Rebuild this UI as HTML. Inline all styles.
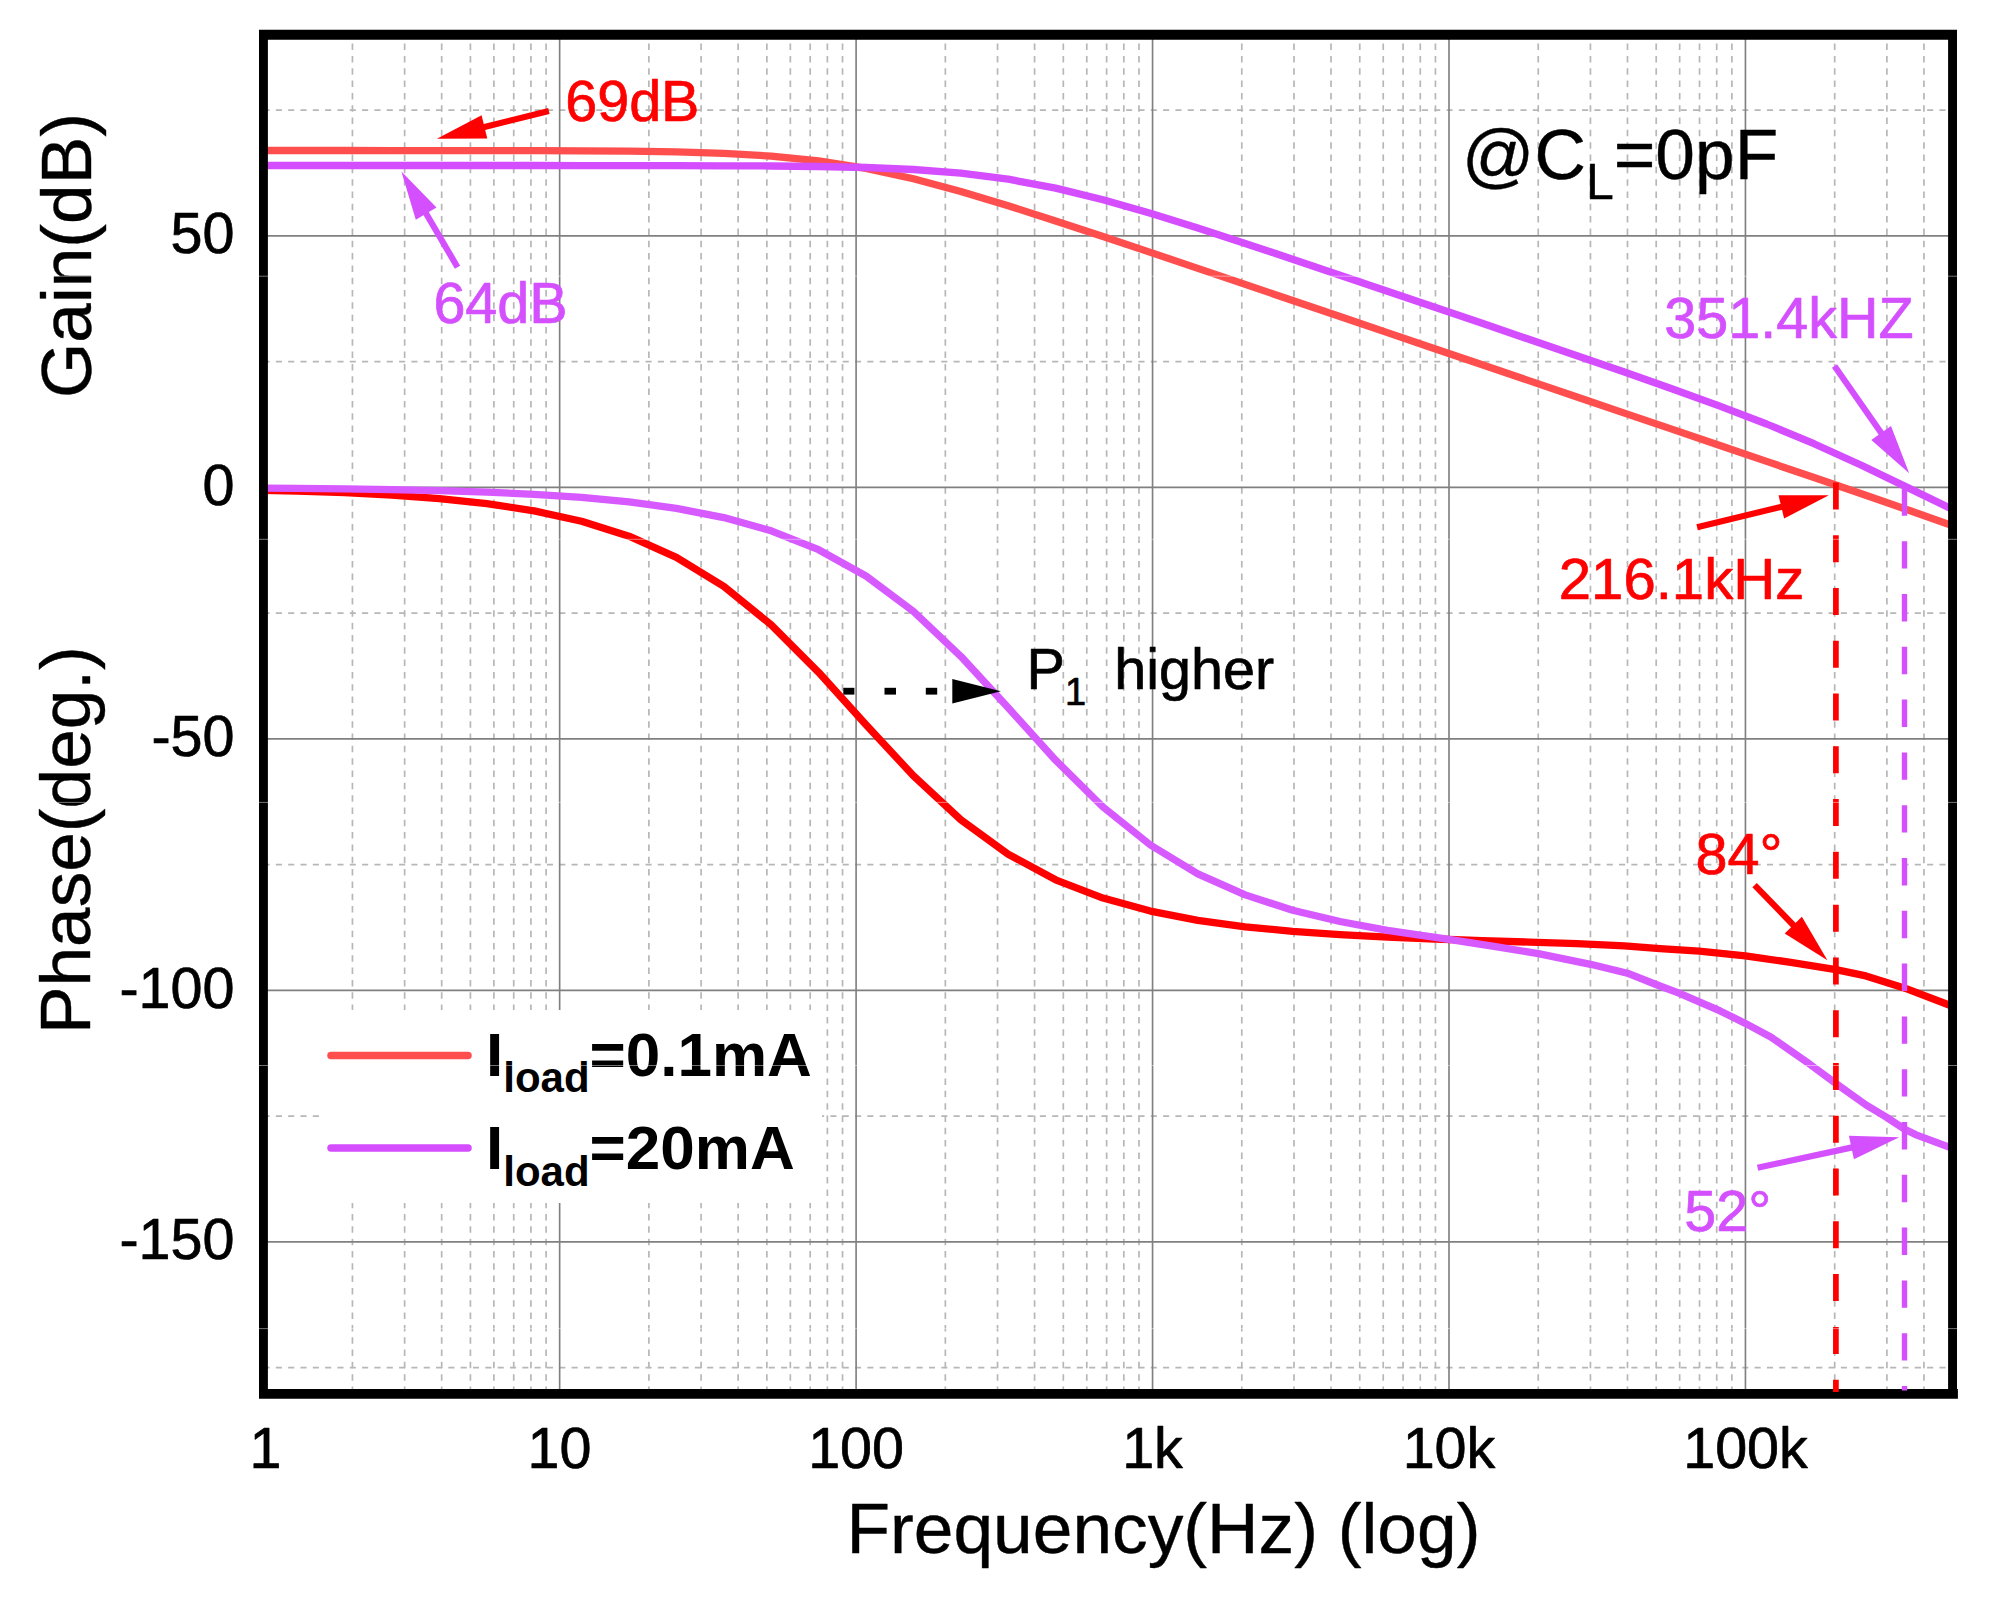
<!DOCTYPE html>
<html lang="en"><head><meta charset="utf-8"><title>Bode plot</title>
<style>html,body{margin:0;padding:0;background:#fff}svg{display:block}text{font-family:"Liberation Sans",Arial,sans-serif;stroke-width:.7px;stroke-linejoin:round}.k{stroke:#000}.r{stroke:#FF0000}.p{stroke:#D450FF}.b{stroke:none}.t{stroke-width:.4px}</style></head><body>
<svg width="1996" height="1608" viewBox="0 0 1996 1608">
<rect width="1996" height="1608" fill="#fff"/>
<defs><clipPath id="c"><rect x="263.5" y="34.8" width="1689.0" height="1359.0"/></clipPath></defs>
<g fill="none" stroke="#B7B7B7" stroke-width="1.65">
<path d="M352.44 1393.00V34.8" stroke-width="1.7" stroke-dasharray="6.5 5.82"/>
<path d="M404.64 1393.00V34.8" stroke-width="1.7" stroke-dasharray="6.5 5.82"/>
<path d="M441.68 1393.00V34.8" stroke-width="1.7" stroke-dasharray="6.5 5.82"/>
<path d="M470.41 1393.00V34.8" stroke-width="1.7" stroke-dasharray="6.5 5.82"/>
<path d="M493.88 1393.00V34.8" stroke-width="1.7" stroke-dasharray="6.5 5.82"/>
<path d="M513.73 1393.00V34.8" stroke-width="1.7" stroke-dasharray="6.5 5.82"/>
<path d="M530.92 1393.00V34.8" stroke-width="1.7" stroke-dasharray="6.5 5.82"/>
<path d="M546.09 1393.00V34.8" stroke-width="1.7" stroke-dasharray="6.5 5.82"/>
<path d="M648.89 1393.00V34.8" stroke-width="1.7" stroke-dasharray="6.5 5.82"/>
<path d="M701.09 1393.00V34.8" stroke-width="1.7" stroke-dasharray="6.5 5.82"/>
<path d="M738.13 1393.00V34.8" stroke-width="1.7" stroke-dasharray="6.5 5.82"/>
<path d="M766.86 1393.00V34.8" stroke-width="1.7" stroke-dasharray="6.5 5.82"/>
<path d="M790.33 1393.00V34.8" stroke-width="1.7" stroke-dasharray="6.5 5.82"/>
<path d="M810.18 1393.00V34.8" stroke-width="1.7" stroke-dasharray="6.5 5.82"/>
<path d="M827.37 1393.00V34.8" stroke-width="1.7" stroke-dasharray="6.5 5.82"/>
<path d="M842.54 1393.00V34.8" stroke-width="1.7" stroke-dasharray="6.5 5.82"/>
<path d="M945.34 1393.00V34.8" stroke-width="1.7" stroke-dasharray="6.5 5.82"/>
<path d="M997.54 1393.00V34.8" stroke-width="1.7" stroke-dasharray="6.5 5.82"/>
<path d="M1034.58 1393.00V34.8" stroke-width="1.7" stroke-dasharray="6.5 5.82"/>
<path d="M1063.31 1393.00V34.8" stroke-width="1.7" stroke-dasharray="6.5 5.82"/>
<path d="M1086.78 1393.00V34.8" stroke-width="1.7" stroke-dasharray="6.5 5.82"/>
<path d="M1106.63 1393.00V34.8" stroke-width="1.7" stroke-dasharray="6.5 5.82"/>
<path d="M1123.82 1393.00V34.8" stroke-width="1.7" stroke-dasharray="6.5 5.82"/>
<path d="M1138.99 1393.00V34.8" stroke-width="1.7" stroke-dasharray="6.5 5.82"/>
<path d="M1241.79 1393.00V34.8" stroke-width="1.7" stroke-dasharray="6.5 5.82"/>
<path d="M1293.99 1393.00V34.8" stroke-width="1.7" stroke-dasharray="6.5 5.82"/>
<path d="M1331.03 1393.00V34.8" stroke-width="1.7" stroke-dasharray="6.5 5.82"/>
<path d="M1359.76 1393.00V34.8" stroke-width="1.7" stroke-dasharray="6.5 5.82"/>
<path d="M1383.23 1393.00V34.8" stroke-width="1.7" stroke-dasharray="6.5 5.82"/>
<path d="M1403.08 1393.00V34.8" stroke-width="1.7" stroke-dasharray="6.5 5.82"/>
<path d="M1420.27 1393.00V34.8" stroke-width="1.7" stroke-dasharray="6.5 5.82"/>
<path d="M1435.44 1393.00V34.8" stroke-width="1.7" stroke-dasharray="6.5 5.82"/>
<path d="M1538.24 1393.00V34.8" stroke-width="1.7" stroke-dasharray="6.5 5.82"/>
<path d="M1590.44 1393.00V34.8" stroke-width="1.7" stroke-dasharray="6.5 5.82"/>
<path d="M1627.48 1393.00V34.8" stroke-width="1.7" stroke-dasharray="6.5 5.82"/>
<path d="M1656.21 1393.00V34.8" stroke-width="1.7" stroke-dasharray="6.5 5.82"/>
<path d="M1679.68 1393.00V34.8" stroke-width="1.7" stroke-dasharray="6.5 5.82"/>
<path d="M1699.53 1393.00V34.8" stroke-width="1.7" stroke-dasharray="6.5 5.82"/>
<path d="M1716.72 1393.00V34.8" stroke-width="1.7" stroke-dasharray="6.5 5.82"/>
<path d="M1731.89 1393.00V34.8" stroke-width="1.7" stroke-dasharray="6.5 5.82"/>
<path d="M1834.69 1393.00V34.8" stroke-width="1.7" stroke-dasharray="6.5 5.82"/>
<path d="M1886.89 1393.00V34.8" stroke-width="1.7" stroke-dasharray="6.5 5.82"/>
<path d="M1923.93 1393.00V34.8" stroke-width="1.7" stroke-dasharray="6.5 5.82"/>
<path d="M263.50 110.05H1952.5" stroke-dasharray="6.1 6.223"/>
<path d="M263.50 361.55H1952.5" stroke-dasharray="6.1 6.223"/>
<path d="M263.50 613.05H1952.5" stroke-dasharray="6.1 6.223"/>
<path d="M263.50 864.55H1952.5" stroke-dasharray="6.1 6.223"/>
<path d="M263.50 1116.05H1952.5" stroke-dasharray="6.1 6.223"/>
<path d="M263.50 1367.55H1952.5" stroke-dasharray="6.1 6.223"/>
</g>
<g fill="none" stroke="#808080" stroke-width="1.65">
<path d="M559.65 34.8V1393.8"/>
<path d="M856.10 34.8V1393.8"/>
<path d="M1152.55 34.8V1393.8"/>
<path d="M1449.00 34.8V1393.8"/>
<path d="M1745.45 34.8V1393.8"/>
<path d="M263.5 235.80H1952.5"/>
<path d="M263.5 487.30H1952.5"/>
<path d="M263.5 738.80H1952.5"/>
<path d="M263.5 990.30H1952.5"/>
<path d="M263.5 1241.80H1952.5"/>
</g>
<g clip-path="url(#c)">
<polyline points="249.8,150.5 297.2,150.5 344.6,150.5 392.0,150.6 439.4,150.6 486.8,150.6 534.2,150.7 581.6,150.9 629.0,151.2 676.4,151.9 723.8,153.4 771.2,156.1 818.6,160.9 866.0,168.4 913.4,178.8 960.8,191.5 1008.2,205.8 1055.6,220.9 1103.0,236.5 1150.4,252.4 1197.8,268.4 1245.2,284.4 1292.6,300.5 1340.0,316.5 1387.4,332.6 1434.8,348.7 1482.2,364.8 1529.6,380.9 1577.0,397.0 1624.4,413.1 1671.8,429.1 1719.2,445.3 1766.6,461.4 1814.0,477.5 1861.4,493.8 1908.8,510.2 1956.2,527.0 2003.6,544.4" fill="none" stroke="#FF4E4E" stroke-width="7.3" stroke-linejoin="round" stroke-linecap="butt"/>
<polyline points="249.8,165.5 297.2,165.5 344.6,165.5 392.0,165.5 439.4,165.5 486.8,165.5 534.2,165.5 581.6,165.6 629.0,165.6 676.4,165.6 723.8,165.8 771.2,166.0 818.6,166.5 866.0,167.5 913.4,169.5 960.8,173.1 1008.2,179.2 1055.6,188.1 1103.0,199.7 1150.4,213.3 1197.8,228.0 1245.2,243.5 1292.6,259.2 1340.0,275.2 1387.4,291.2 1434.8,307.2 1482.2,323.3 1529.6,339.5 1577.0,355.7 1624.4,372.0 1671.8,388.7 1719.2,405.9 1766.6,424.0 1814.0,443.7 1861.4,465.2 1908.8,488.1 1956.2,511.2 2003.6,533.1" fill="none" stroke="#D44EFF" stroke-width="7.3" stroke-linejoin="round" stroke-linecap="butt"/>
<polyline points="249.8,489.9 297.2,491.1 344.6,492.7 392.0,495.1 439.4,498.6 486.8,503.6 534.2,510.9 581.6,521.3 629.0,536.2 676.4,557.3 723.8,586.3 771.2,624.9 818.6,672.3 866.0,724.7 913.4,775.8 960.8,819.7 1008.2,854.2 1055.6,879.8 1103.0,898.1 1150.4,911.1 1197.8,920.3 1245.2,926.8 1292.6,931.4 1340.0,934.7 1387.4,937.2 1434.8,939.0 1482.2,940.6 1529.6,942.1 1577.0,943.7 1624.4,945.8 1660.0,948.6 1699.1,951.1 1745.4,955.8 1790.8,962.4 1835.9,969.6 1865.9,975.9 1904.2,987.9 1947.8,1004.5 1960.0,1009.2" fill="none" stroke="#FF0000" stroke-width="7.3" stroke-linejoin="round" stroke-linecap="butt"/>
<polyline points="249.8,488.1 297.2,488.4 344.6,488.9 392.0,489.6 439.4,490.6 486.8,492.1 534.2,494.3 581.6,497.4 629.0,501.8 676.4,508.3 723.8,517.6 771.2,530.8 818.6,549.7 866.0,576.0 913.4,611.4 960.8,656.3 1008.2,707.8 1055.6,760.2 1103.0,807.0 1150.4,845.0 1197.8,873.8 1245.2,894.9 1292.6,910.2 1340.0,921.5 1387.4,930.3 1448.9,939.4 1494.0,946.3 1538.3,953.7 1590.6,964.3 1627.4,973.2 1656.0,984.5 1679.0,993.2 1720.1,1010.9 1745.4,1023.4 1771.2,1037.2 1810.3,1064.6 1835.9,1083.5 1865.9,1104.9 1885.5,1116.6 1904.2,1128.9 1915.5,1134.6 1947.8,1146.7 1960.0,1151.3" fill="none" stroke="#D65AFF" stroke-width="7.3" stroke-linejoin="round" stroke-linecap="butt"/>
</g>
<path d="M259 29.85H1957V39.65H259ZM259 1389H1957.9V1398.75H259ZM259 29.85H267.9V1398.75H259ZM1948.1 29.85H1957V1398.75H1948.1Z" fill="#000"/>
<path d="M1835.9 482.4V1392" fill="none" stroke="#FF0000" stroke-width="5.7" stroke-dasharray="27 25.78"/>
<path d="M1904.5 488.4V1390.4" fill="none" stroke="#D450FF" stroke-width="5.4" stroke-dasharray="27.4 25.4"/>
<rect x="320" y="1010" width="502" height="193" fill="#fff"/>
<path d="M331 1055.6H468" stroke="#FF4E4E" stroke-width="7.5" stroke-linecap="round"/>
<path d="M331 1148.1H468" stroke="#D44EFF" stroke-width="7.5" stroke-linecap="round"/>
<text class="b" x="486" y="1075.8" font-size="62" font-weight="bold" fill="#000">I<tspan font-size="42" dy="16.3">load</tspan><tspan dy="-16.3">=0.1mA</tspan></text>
<text class="b" x="486" y="1169.2" font-size="62" font-weight="bold" fill="#000">I<tspan font-size="42" dy="16.3">load</tspan><tspan dy="-16.3">=20mA</tspan></text>
<path d="M548.9 111.0L482.5 127.4" stroke="#FF0000" stroke-width="6.2" fill="none"/>
<path d="M436.9 138.7L481.6 115.3L487.3 138.6Z" fill="#FF0000"/>
<path d="M457.5 267.2L425.2 212.0" stroke="#D450FF" stroke-width="6.2" fill="none"/>
<path d="M401.4 171.4L436.5 207.6L415.8 219.7Z" fill="#D450FF"/>
<path d="M1834.5 366.0L1882.3 434.6" stroke="#D450FF" stroke-width="6.2" fill="none"/>
<path d="M1909.2 473.2L1871.3 439.9L1891.0 426.1Z" fill="#D450FF"/>
<path d="M1697.1 527.2L1783.2 506.4" stroke="#FF0000" stroke-width="6.2" fill="none"/>
<path d="M1828.9 495.3L1784.1 518.5L1778.5 495.2Z" fill="#FF0000"/>
<path d="M1754.6 885.1L1794.7 926.5" stroke="#FF0000" stroke-width="6.2" fill="none"/>
<path d="M1827.4 960.3L1784.7 933.4L1801.9 916.7Z" fill="#FF0000"/>
<path d="M1757.6 1167.7L1853.4 1147.1" stroke="#D450FF" stroke-width="6.2" fill="none"/>
<path d="M1899.3 1137.2L1853.9 1159.2L1848.9 1135.8Z" fill="#D450FF"/>
<rect x="843.3" y="687.8" width="11.1" height="6.8" fill="#000"/>
<rect x="884.5" y="687.8" width="11.5" height="6.8" fill="#000"/>
<rect x="925.8" y="687.8" width="11.4" height="6.8" fill="#000"/>
<path d="M1000.9 691.2L952.3 678.9L952.3 703.6Z" fill="#000"/>
<text class="r" x="565.2" y="121.3" font-size="57.5" fill="#FF0000">69dB</text>
<text class="p" x="433.4" y="322.6" font-size="57.5" fill="#D450FF">64dB</text>
<text class="p" x="1664.3" y="337.7" font-size="57.5" fill="#D450FF">351.4kHZ</text>
<text class="r" x="1558.8" y="598.9" font-size="58.1" fill="#FF0000">216.1kHz</text>
<text class="r" x="1695.6" y="873.7" font-size="57.5" fill="#FF0000">84°</text>
<text class="p" x="1684.2" y="1231.2" font-size="57.5" fill="#D450FF">52°</text>
<text class="k" x="1026.6" y="689" font-size="57.5" fill="#000">P<tspan font-size="38" dy="15.7">1</tspan></text>
<text class="k" x="1114.3" y="689" font-size="57.5" fill="#000">higher</text>
<text class="k t" x="1462" y="179.4" font-size="71.3" fill="#000">@C<tspan font-size="50" dy="19.7">L</tspan><tspan dy="-19.7">=0pF</tspan></text>
<text class="k" x="234.5" y="253.0" font-size="57.5" text-anchor="end" fill="#000">50</text>
<text class="k" x="234.5" y="504.5" font-size="57.5" text-anchor="end" fill="#000">0</text>
<text class="k" x="234.5" y="756.0" font-size="57.5" text-anchor="end" fill="#000">-50</text>
<text class="k" x="234.5" y="1007.5" font-size="57.5" text-anchor="end" fill="#000">-100</text>
<text class="k" x="234.5" y="1259.0" font-size="57.5" text-anchor="end" fill="#000">-150</text>
<text class="k" x="265.5" y="1468" font-size="57.5" text-anchor="middle" fill="#000">1</text>
<text class="k" x="559.6" y="1468" font-size="57.5" text-anchor="middle" fill="#000">10</text>
<text class="k" x="856.1" y="1468" font-size="57.5" text-anchor="middle" fill="#000">100</text>
<text class="k" x="1152.5" y="1468" font-size="57.5" text-anchor="middle" fill="#000">1k</text>
<text class="k" x="1449.0" y="1468" font-size="57.5" text-anchor="middle" fill="#000">10k</text>
<text class="k" x="1745.5" y="1468" font-size="57.5" text-anchor="middle" fill="#000">100k</text>
<text class="k t" x="846.5" y="1552.7" font-size="71.3" fill="#000">Frequency(Hz) (log)</text>
<text class="k t" transform="translate(91 398) rotate(-90)" font-size="71.2" fill="#000">Gain(dB)</text>
<text class="k t" transform="translate(90 1034) rotate(-90)" font-size="71.2" fill="#000">Phase(deg.)</text>
<rect x="0" y="275.7" width="1996" height="1" fill="#fff" opacity="0.45"/>
<rect x="0" y="538.8" width="1996" height="1" fill="#fff" opacity="0.45"/>
<rect x="0" y="801.9" width="1996" height="1" fill="#fff" opacity="0.45"/>
<rect x="0" y="1065.0" width="1996" height="1" fill="#fff" opacity="0.45"/>
<rect x="0" y="1328.1" width="1996" height="1" fill="#fff" opacity="0.45"/>
</svg></body></html>
